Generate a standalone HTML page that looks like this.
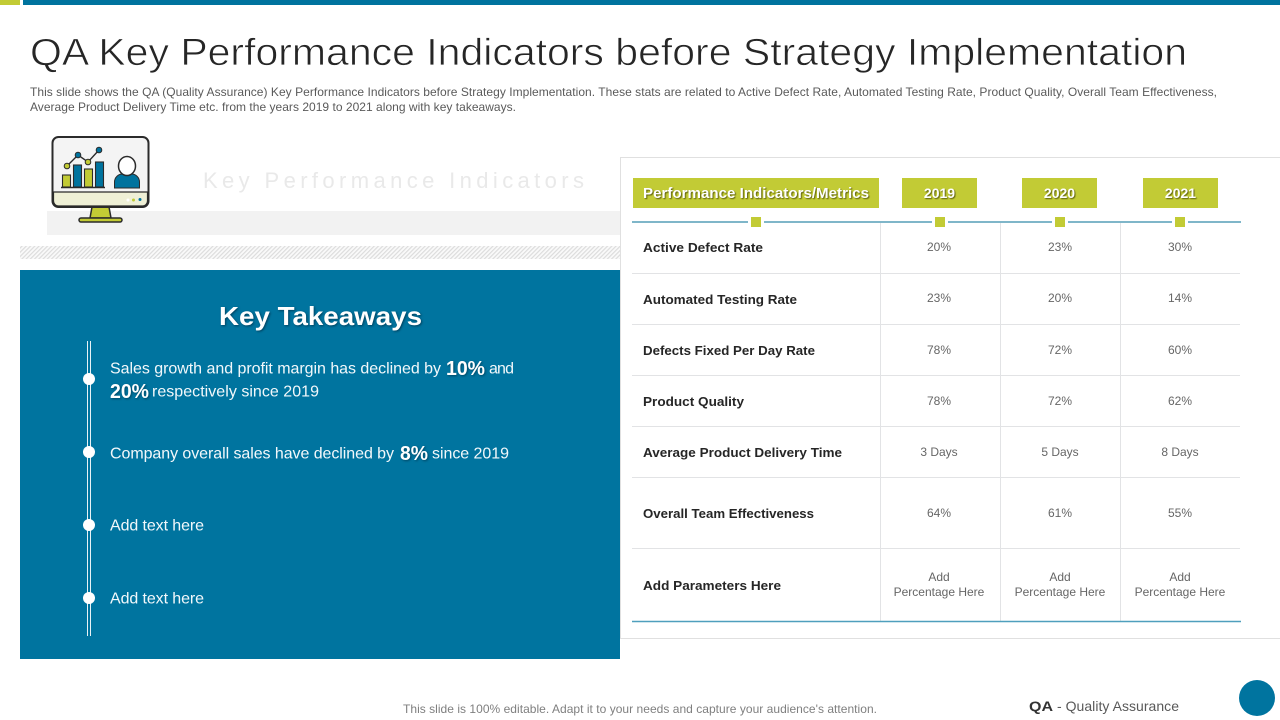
<!DOCTYPE html>
<html lang="en">
<head>
<meta charset="utf-8">
<title>QA Key Performance Indicators before Strategy Implementation</title>
<style>
html,body{margin:0;padding:0;background:#fff;width:1280px;height:720px;overflow:hidden}
svg{display:block}
text{font-family:"Liberation Sans",sans-serif}
.lbl{font-size:13px;font-weight:700;fill:#262626}
.val{font-size:12px;fill:#666;text-anchor:middle}
.hd{font-weight:700;fill:#fff;filter:drop-shadow(1px 1px 0.6px rgba(60,60,0,.75))}
.yr{font-size:14px;text-anchor:middle}
.tk{font-size:16px;fill:#f2f8fb}
.tkb{font-size:20px;font-weight:700;fill:#fff;filter:drop-shadow(1px 1px 1px rgba(0,40,60,.6))}
.grid{stroke:#e2e3e5;stroke-width:1}
</style>
</head>
<body>
<svg xmlns="http://www.w3.org/2000/svg" width="1280" height="720" viewBox="0 0 1280 720">
<defs>
<pattern id="hatch" width="3" height="3" patternUnits="userSpaceOnUse" patternTransform="rotate(45)">
<rect width="3" height="3" fill="#fafafa"/>
<rect width="1.2" height="3" fill="#dcdcdc"/>
</pattern>
</defs>

<rect x="0" y="0" width="20" height="5" fill="#c2cb35"/>
<rect x="23" y="0" width="1257" height="5" fill="#00739e"/>

<text x="30" y="65" font-size="38" fill="#262626" stroke="#fff" stroke-width="0.7" textLength="1157" lengthAdjust="spacingAndGlyphs">QA Key Performance Indicators before Strategy Implementation</text>
<text x="30" y="96" font-size="12" fill="#5a5a5a" textLength="1187" lengthAdjust="spacing">This slide shows the QA (Quality Assurance) Key Performance Indicators before Strategy Implementation. These stats are related to Active Defect Rate, Automated Testing Rate, Product Quality, Overall Team Effectiveness,</text>
<text x="30" y="111" font-size="12" fill="#5a5a5a" textLength="486" lengthAdjust="spacing">Average Product Delivery Time etc. from the years 2019 to 2021 along with key takeaways.</text>

<rect x="47" y="211" width="573" height="24" fill="#f2f2f2"/>
<rect x="20" y="246" width="600" height="13" fill="url(#hatch)"/>
<text x="203" y="188" font-size="22" fill="#e9e9e9" textLength="381" lengthAdjust="spacing">Key Performance Indicators</text>

<g>
<polygon points="92,207 109,207 111,218 90,218" fill="#c2cb35" stroke="#2b2b2b" stroke-width="1.5"/>
<rect x="79" y="218" width="43" height="4" rx="2" fill="#c2cb35" stroke="#2b2b2b" stroke-width="1.5"/>
<rect x="52.5" y="137" width="96" height="70" rx="6" fill="#f4f4f4" stroke="#2b2b2b" stroke-width="2"/>
<path d="M53.5 192H147.5V201a5 5 0 0 1-5 5H58.5a5 5 0 0 1-5-5Z" fill="#eff0d6" stroke="#2b2b2b" stroke-width="1.2"/>
<rect x="62.500" y="175" width="8" height="12" fill="#c2cb35" stroke="#2b2b2b" stroke-width="1.100"/>
<rect x="73.500" y="165" width="8" height="22" fill="#00739e" stroke="#2b2b2b" stroke-width="1.100"/>
<rect x="84.500" y="169" width="8" height="18" fill="#c2cb35" stroke="#2b2b2b" stroke-width="1.100"/>
<rect x="95.500" y="162" width="8" height="25" fill="#00739e" stroke="#2b2b2b" stroke-width="1.100"/>
<line x1="61" y1="187.500" x2="105" y2="187.500" stroke="#2b2b2b" stroke-width="1.600"/>
<polyline points="67,166 78,155 88,162 99,150" fill="none" stroke="#2b2b2b" stroke-width="1.400"/>
<circle cx="67" cy="166" r="2.800" fill="#c2cb35" stroke="#2b2b2b"/>
<circle cx="78" cy="155" r="2.800" fill="#00739e" stroke="#2b2b2b"/>
<circle cx="88" cy="162" r="2.800" fill="#c2cb35" stroke="#2b2b2b"/>
<circle cx="99" cy="150" r="2.800" fill="#00739e" stroke="#2b2b2b"/>
<path d="M114.500 188v-6a8 8 0 0 1 8-8h9a8 8 0 0 1 8 8v6Z" fill="#00739e" stroke="#2b2b2b" stroke-width="1"/>
<ellipse cx="127" cy="166" rx="8.500" ry="9.500" fill="#fff" stroke="#2b2b2b" stroke-width="1.500"/>
<circle cx="128" cy="200" r="1.500" fill="#fff"/>
<circle cx="133.500" cy="200" r="1.500" fill="#c2cb35"/>
<circle cx="140" cy="199.500" r="1.500" fill="#00739e"/>
</g>

<rect x="20" y="270" width="600" height="389" fill="#00749f"/>
<text x="219" y="325" font-size="26" font-weight="700" fill="#fff" textLength="203" lengthAdjust="spacingAndGlyphs" style="filter:drop-shadow(1px 1.500px 1px rgba(0,30,50,.6))">Key Takeaways</text>

<g>
<line x1="87.500" y1="341" x2="87.500" y2="636" stroke="#e8f2f6" stroke-width="1"/>
<line x1="90.500" y1="341" x2="90.500" y2="636" stroke="#e8f2f6" stroke-width="1"/>
<circle cx="89" cy="379" r="6" fill="#fff"/>
<circle cx="89" cy="452" r="6" fill="#fff"/>
<circle cx="89" cy="525" r="6" fill="#fff"/>
<circle cx="89" cy="598" r="6" fill="#fff"/>
</g>

<g>
<text class="tk" x="110" y="373.500" textLength="331" lengthAdjust="spacing">Sales growth and profit margin has declined by</text>
<text class="tkb" x="446" y="375" textLength="39" lengthAdjust="spacingAndGlyphs">10%</text>
<text class="tk" x="489" y="373.500" textLength="25" lengthAdjust="spacing">and</text>
<text class="tkb" x="110" y="398" textLength="39" lengthAdjust="spacingAndGlyphs">20%</text>
<text class="tk" x="152" y="396.500" textLength="167" lengthAdjust="spacing">respectively since 2019</text>
</g>
<g>
<text class="tk" x="110" y="458.500" textLength="284" lengthAdjust="spacing">Company overall sales have declined by</text>
<text class="tkb" x="400" y="460" textLength="28" lengthAdjust="spacingAndGlyphs">8%</text>
<text class="tk" x="432" y="458.500" textLength="77" lengthAdjust="spacing">since 2019</text>
</g>
<text class="tk" x="110" y="530.500" textLength="94" lengthAdjust="spacing">Add text here</text>
<text class="tk" x="110" y="603.500" textLength="94" lengthAdjust="spacing">Add text here</text>

<path d="M1280 157.500H620.500V638.500H1280" fill="#fff" stroke="#e0e0e0" stroke-width="1"/>

<g>
<g>
<rect x="633" y="178" width="246" height="30" fill="#c2cb35"/>
<rect x="902" y="178" width="75" height="30" fill="#c2cb35"/>
<rect x="1022" y="178" width="75" height="30" fill="#c2cb35"/>
<rect x="1143" y="178" width="75" height="30" fill="#c2cb35"/>
<text class="hd" x="643" y="198" font-size="14.500" textLength="226" lengthAdjust="spacingAndGlyphs">Performance Indicators/Metrics</text>
<text class="hd yr" x="939.500" y="198">2019</text>
<text class="hd yr" x="1059.500" y="198">2020</text>
<text class="hd yr" x="1180.500" y="198">2021</text>
</g>

<g>
<line class="grid" x1="880.500" y1="222" x2="880.500" y2="621"/>
<line class="grid" x1="1000.500" y1="222" x2="1000.500" y2="621"/>
<line class="grid" x1="1120.500" y1="222" x2="1120.500" y2="621"/>
<line class="grid" x1="632" y1="273.500" x2="1240" y2="273.500"/>
<line class="grid" x1="632" y1="324.500" x2="1240" y2="324.500"/>
<line class="grid" x1="632" y1="375.500" x2="1240" y2="375.500"/>
<line class="grid" x1="632" y1="426.500" x2="1240" y2="426.500"/>
<line class="grid" x1="632" y1="477.500" x2="1240" y2="477.500"/>
<line class="grid" x1="632" y1="548.500" x2="1240" y2="548.500"/>
</g>

<g>
<line x1="632" y1="222" x2="1241" y2="222" stroke="#7fb6c9" stroke-width="2"/>
<rect x="748" y="215" width="16" height="14" fill="#fff"/>
<rect x="932" y="215" width="16" height="14" fill="#fff"/>
<rect x="1052" y="215" width="16" height="14" fill="#fff"/>
<rect x="1172" y="215" width="16" height="14" fill="#fff"/>
<rect x="751" y="217" width="10" height="10" fill="#c2cb35"/>
<rect x="935" y="217" width="10" height="10" fill="#c2cb35"/>
<rect x="1055" y="217" width="10" height="10" fill="#c2cb35"/>
<rect x="1175" y="217" width="10" height="10" fill="#c2cb35"/>
</g>
<line x1="632" y1="621.500" x2="1241" y2="621.500" stroke="#4f9fbd" stroke-width="1.500"/>

<g>
<text class="lbl" x="643" y="252" textLength="120" lengthAdjust="spacingAndGlyphs">Active Defect Rate</text>
<text class="val" x="939" y="251">20%</text><text class="val" x="1060" y="251">23%</text><text class="val" x="1180" y="251">30%</text>
</g>
<g>
<text class="lbl" x="643" y="304" textLength="154" lengthAdjust="spacingAndGlyphs">Automated Testing Rate</text>
<text class="val" x="939" y="302">23%</text><text class="val" x="1060" y="302">20%</text><text class="val" x="1180" y="302">14%</text>
</g>
<g>
<text class="lbl" x="643" y="355" textLength="172" lengthAdjust="spacingAndGlyphs">Defects Fixed Per Day Rate</text>
<text class="val" x="939" y="354">78%</text><text class="val" x="1060" y="354">72%</text><text class="val" x="1180" y="354">60%</text>
</g>
<g>
<text class="lbl" x="643" y="406" textLength="101" lengthAdjust="spacingAndGlyphs">Product Quality</text>
<text class="val" x="939" y="405">78%</text><text class="val" x="1060" y="405">72%</text><text class="val" x="1180" y="405">62%</text>
</g>
<g>
<text class="lbl" x="643" y="457" textLength="199" lengthAdjust="spacingAndGlyphs">Average Product Delivery Time</text>
<text class="val" x="939" y="456">3 Days</text><text class="val" x="1060" y="456">5 Days</text><text class="val" x="1180" y="456">8 Days</text>
</g>
<g>
<text class="lbl" x="643" y="518" textLength="171" lengthAdjust="spacingAndGlyphs">Overall Team Effectiveness</text>
<text class="val" x="939" y="517">64%</text><text class="val" x="1060" y="517">61%</text><text class="val" x="1180" y="517">55%</text>
</g>
<g>
<text class="lbl" x="643" y="590" textLength="138" lengthAdjust="spacingAndGlyphs">Add Parameters Here</text>
<text class="val" x="939" y="581">Add</text><text class="val" x="939" y="596">Percentage Here</text>
<text class="val" x="1060" y="581">Add</text><text class="val" x="1060" y="596">Percentage Here</text>
<text class="val" x="1180" y="581">Add</text><text class="val" x="1180" y="596">Percentage Here</text>
</g>
</g>

<text x="403" y="713" font-size="12" fill="#7f7f7f" textLength="474" lengthAdjust="spacing">This slide is 100% editable. Adapt it to your needs and capture your audience's attention.</text>
<text x="1029" y="711" font-size="14" font-weight="700" fill="#333" textLength="24" lengthAdjust="spacingAndGlyphs">QA</text>
<text x="1057" y="711" font-size="14" fill="#595959" textLength="122" lengthAdjust="spacing">- Quality Assurance</text>
<circle cx="1257" cy="698" r="18" fill="#00749f"/>
</svg>
</body>
</html>
